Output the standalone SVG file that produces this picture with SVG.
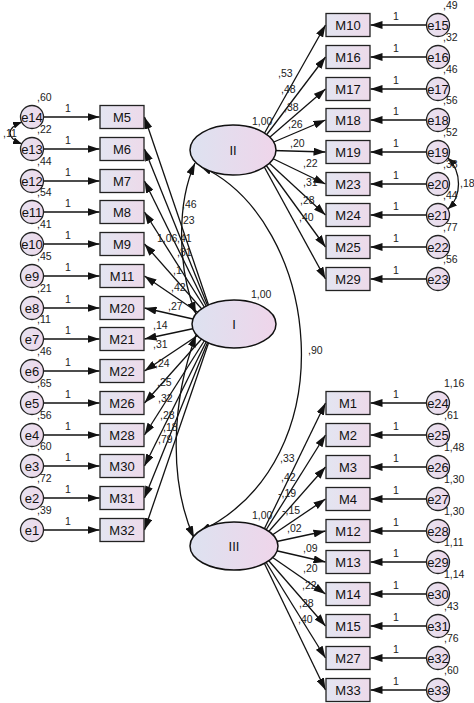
<svg xmlns="http://www.w3.org/2000/svg" width="474" height="703" viewBox="0 0 474 703">
<style>
.bg{fill:#ffffff}
.box{fill:url(#gBox);stroke:#222;stroke-width:1.3}
.err{fill:url(#gErr);stroke:#222;stroke-width:1.3}
.lat{fill:url(#gLat);stroke:#111;stroke-width:1.5}
.lbl{font-family:"Liberation Sans",Arial,sans-serif;font-size:13px;fill:#111;text-anchor:middle}
.el{font-family:"Liberation Sans",Arial,sans-serif;font-size:13px;fill:#111;text-anchor:middle}
.num{font-family:"Liberation Sans",Arial,sans-serif;font-size:10.5px;fill:#222}
.ar{stroke:#111;stroke-width:1.3;fill:none;marker-end:url(#ah)}
.cv{stroke:#111;stroke-width:1.3;fill:none;marker-start:url(#ah);marker-end:url(#ah)}
.cvs{stroke:#111;stroke-width:1.3;fill:none;marker-start:url(#ahs);marker-end:url(#ahs)}
</style>
<defs>
<linearGradient id="gBox" x1="0" y1="0" x2="1" y2="0"><stop offset="0" stop-color="#e3e5f1"/><stop offset="1" stop-color="#eddaea"/></linearGradient>
<linearGradient id="gLat" x1="0" y1="0" x2="1" y2="0"><stop offset="0" stop-color="#dde2f0"/><stop offset="1" stop-color="#efd5ea"/></linearGradient>
<linearGradient id="gErr" x1="0" y1="0" x2="1" y2="0"><stop offset="0" stop-color="#e6e2f0"/><stop offset="1" stop-color="#eed8ea"/></linearGradient>
<marker id="ah" markerUnits="userSpaceOnUse" markerWidth="12" markerHeight="8" refX="12" refY="4" orient="auto-start-reverse"><path d="M0,0 L12,4 L0,8 z" fill="#111"/></marker>
<marker id="ahs" markerUnits="userSpaceOnUse" markerWidth="9" markerHeight="7" refX="9" refY="3.5" orient="auto-start-reverse"><path d="M0,0 L9,3.5 L0,7 z" fill="#111"/></marker>
</defs>
<rect class="bg" x="0" y="0" width="474" height="703"/>
<g id="connectors">
<line class="ar" x1="215" y1="324" x2="144.5" y2="117"/>
<line class="ar" x1="215" y1="324" x2="144.5" y2="149"/>
<line class="ar" x1="215" y1="324" x2="144.5" y2="181"/>
<line class="ar" x1="215" y1="324" x2="144.5" y2="212"/>
<line class="ar" x1="215" y1="324" x2="144.5" y2="244"/>
<line class="ar" x1="215" y1="324" x2="144.5" y2="276"/>
<line class="ar" x1="215" y1="324" x2="144.5" y2="308"/>
<line class="ar" x1="215" y1="324" x2="144.5" y2="339"/>
<line class="ar" x1="215" y1="324" x2="144.5" y2="371"/>
<line class="ar" x1="215" y1="324" x2="144.5" y2="403"/>
<line class="ar" x1="215" y1="324" x2="144.5" y2="435"/>
<line class="ar" x1="215" y1="324" x2="144.5" y2="466"/>
<line class="ar" x1="215" y1="324" x2="144.5" y2="498"/>
<line class="ar" x1="215" y1="324" x2="144.5" y2="530"/>
<line class="ar" x1="255" y1="150" x2="325.5" y2="25"/>
<line class="ar" x1="255" y1="150" x2="325.5" y2="57"/>
<line class="ar" x1="255" y1="150" x2="325.5" y2="89"/>
<line class="ar" x1="255" y1="150" x2="325.5" y2="120"/>
<line class="ar" x1="255" y1="150" x2="325.5" y2="152"/>
<line class="ar" x1="255" y1="150" x2="325.5" y2="184"/>
<line class="ar" x1="255" y1="150" x2="325.5" y2="215"/>
<line class="ar" x1="255" y1="150" x2="325.5" y2="247"/>
<line class="ar" x1="255" y1="150" x2="325.5" y2="279"/>
<line class="ar" x1="256" y1="546" x2="325.5" y2="403"/>
<line class="ar" x1="256" y1="546" x2="325.5" y2="435"/>
<line class="ar" x1="256" y1="546" x2="325.5" y2="467"/>
<line class="ar" x1="256" y1="546" x2="325.5" y2="499"/>
<line class="ar" x1="256" y1="546" x2="325.5" y2="531"/>
<line class="ar" x1="256" y1="546" x2="325.5" y2="562"/>
<line class="ar" x1="256" y1="546" x2="325.5" y2="594"/>
<line class="ar" x1="256" y1="546" x2="325.5" y2="626"/>
<line class="ar" x1="256" y1="546" x2="325.5" y2="658"/>
<line class="ar" x1="256" y1="546" x2="325.5" y2="690"/>
<line class="ar" x1="43.5" y1="117" x2="99.5" y2="117"/>
<line class="ar" x1="43.5" y1="149" x2="99.5" y2="149"/>
<line class="ar" x1="43.5" y1="181" x2="99.5" y2="181"/>
<line class="ar" x1="43.5" y1="212" x2="99.5" y2="212"/>
<line class="ar" x1="43.5" y1="244" x2="99.5" y2="244"/>
<line class="ar" x1="43.5" y1="276" x2="99.5" y2="276"/>
<line class="ar" x1="43.5" y1="308" x2="99.5" y2="308"/>
<line class="ar" x1="43.5" y1="339" x2="99.5" y2="339"/>
<line class="ar" x1="43.5" y1="371" x2="99.5" y2="371"/>
<line class="ar" x1="43.5" y1="403" x2="99.5" y2="403"/>
<line class="ar" x1="43.5" y1="435" x2="99.5" y2="435"/>
<line class="ar" x1="43.5" y1="466" x2="99.5" y2="466"/>
<line class="ar" x1="43.5" y1="498" x2="99.5" y2="498"/>
<line class="ar" x1="43.5" y1="530" x2="99.5" y2="530"/>
<line class="ar" x1="426.5" y1="25" x2="370.5" y2="25"/>
<line class="ar" x1="426.5" y1="57" x2="370.5" y2="57"/>
<line class="ar" x1="426.5" y1="89" x2="370.5" y2="89"/>
<line class="ar" x1="426.5" y1="120" x2="370.5" y2="120"/>
<line class="ar" x1="426.5" y1="152" x2="370.5" y2="152"/>
<line class="ar" x1="426.5" y1="184" x2="370.5" y2="184"/>
<line class="ar" x1="426.5" y1="215" x2="370.5" y2="215"/>
<line class="ar" x1="426.5" y1="247" x2="370.5" y2="247"/>
<line class="ar" x1="426.5" y1="279" x2="370.5" y2="279"/>
<line class="ar" x1="426.5" y1="403" x2="370.5" y2="403"/>
<line class="ar" x1="426.5" y1="435" x2="370.5" y2="435"/>
<line class="ar" x1="426.5" y1="467" x2="370.5" y2="467"/>
<line class="ar" x1="426.5" y1="499" x2="370.5" y2="499"/>
<line class="ar" x1="426.5" y1="531" x2="370.5" y2="531"/>
<line class="ar" x1="426.5" y1="562" x2="370.5" y2="562"/>
<line class="ar" x1="426.5" y1="594" x2="370.5" y2="594"/>
<line class="ar" x1="426.5" y1="626" x2="370.5" y2="626"/>
<line class="ar" x1="426.5" y1="658" x2="370.5" y2="658"/>
<line class="ar" x1="426.5" y1="690" x2="370.5" y2="690"/>
<path class="cv" d="M196,314 C178,270 176,205 195,163"/>
<path class="cv" d="M196,335 C172,400 168,480 194,538"/>
<path class="cv" d="M200,166 C320,220 350,460 199,532"/>
<path class="cvs" d="M22,122 C6,128 6,138 22,144"/>
<path class="cvs" d="M448,158 C462,172 462,196 448,209"/>
</g>
<g id="labels" class="num">
<text x="182" y="208">,46</text>
<text x="180" y="224">,23</text>
<text x="157" y="242">1,06</text>
<text x="177" y="242">,41</text>
<text x="177" y="256">,81</text>
<text x="173" y="274">,1</text>
<text x="171" y="291">,42</text>
<text x="168" y="310">,27</text>
<text x="153" y="329">,14</text>
<text x="153" y="348">,31</text>
<text x="155" y="367">,24</text>
<text x="157" y="386">,25</text>
<text x="158" y="402">,32</text>
<text x="160" y="419">,28</text>
<text x="163" y="431">,18</text>
<text x="158" y="443">,79</text>
<text x="278" y="77">,53</text>
<text x="281" y="93">,48</text>
<text x="284" y="111">,38</text>
<text x="288" y="128">,26</text>
<text x="290" y="147">,20</text>
<text x="303" y="167">,22</text>
<text x="303" y="186">,31</text>
<text x="300" y="204">,28</text>
<text x="299" y="221">,40</text>
<text x="280" y="462">,33</text>
<text x="281" y="481">,42</text>
<text x="278" y="497">-,19</text>
<text x="282" y="514">-,15</text>
<text x="287" y="532">,02</text>
<text x="303" y="552">,09</text>
<text x="303" y="572">,20</text>
<text x="302" y="589">,22</text>
<text x="299" y="607">,28</text>
<text x="298" y="623">,40</text>
<text x="252" y="125">1,00</text>
<text x="251" y="298">1,00</text>
<text x="252" y="519">1,00</text>
<text x="308" y="354">,90</text>
<text x="3" y="137">,11</text>
<text x="460" y="187">,18</text>
</g>
<g id="latents">
<g id="II"><ellipse class="lat" cx="233" cy="150" rx="43" ry="25"/><text class="el" x="233" y="155">II</text></g>
<g id="I"><ellipse class="lat" cx="234" cy="324" rx="42" ry="24"/><text class="el" x="234" y="329">I</text></g>
<g id="III"><ellipse class="lat" cx="234" cy="546" rx="44" ry="24"/><text class="el" x="234" y="551">III</text></g>
</g>
<g id="observed">
<g id="M5"><rect class="box" x="100" y="105.5" width="44" height="23"/><text class="lbl" x="122" y="121.5">M5</text></g>
<g id="M6"><rect class="box" x="100" y="137.5" width="44" height="23"/><text class="lbl" x="122" y="153.5">M6</text></g>
<g id="M7"><rect class="box" x="100" y="169.5" width="44" height="23"/><text class="lbl" x="122" y="185.5">M7</text></g>
<g id="M8"><rect class="box" x="100" y="200.5" width="44" height="23"/><text class="lbl" x="122" y="216.5">M8</text></g>
<g id="M9"><rect class="box" x="100" y="232.5" width="44" height="23"/><text class="lbl" x="122" y="248.5">M9</text></g>
<g id="M11"><rect class="box" x="100" y="264.5" width="44" height="23"/><text class="lbl" x="122" y="280.5">M11</text></g>
<g id="M20"><rect class="box" x="100" y="296.5" width="44" height="23"/><text class="lbl" x="122" y="312.5">M20</text></g>
<g id="M21"><rect class="box" x="100" y="327.5" width="44" height="23"/><text class="lbl" x="122" y="343.5">M21</text></g>
<g id="M22"><rect class="box" x="100" y="359.5" width="44" height="23"/><text class="lbl" x="122" y="375.5">M22</text></g>
<g id="M26"><rect class="box" x="100" y="391.5" width="44" height="23"/><text class="lbl" x="122" y="407.5">M26</text></g>
<g id="M28"><rect class="box" x="100" y="423.5" width="44" height="23"/><text class="lbl" x="122" y="439.5">M28</text></g>
<g id="M30"><rect class="box" x="100" y="454.5" width="44" height="23"/><text class="lbl" x="122" y="470.5">M30</text></g>
<g id="M31"><rect class="box" x="100" y="486.5" width="44" height="23"/><text class="lbl" x="122" y="502.5">M31</text></g>
<g id="M32"><rect class="box" x="100" y="518.5" width="44" height="23"/><text class="lbl" x="122" y="534.5">M32</text></g>
<g id="M10"><rect class="box" x="326" y="13.5" width="44" height="23"/><text class="lbl" x="348" y="29.5">M10</text></g>
<g id="M16"><rect class="box" x="326" y="45.5" width="44" height="23"/><text class="lbl" x="348" y="61.5">M16</text></g>
<g id="M17"><rect class="box" x="326" y="77.5" width="44" height="23"/><text class="lbl" x="348" y="93.5">M17</text></g>
<g id="M18"><rect class="box" x="326" y="108.5" width="44" height="23"/><text class="lbl" x="348" y="124.5">M18</text></g>
<g id="M19"><rect class="box" x="326" y="140.5" width="44" height="23"/><text class="lbl" x="348" y="156.5">M19</text></g>
<g id="M23"><rect class="box" x="326" y="172.5" width="44" height="23"/><text class="lbl" x="348" y="188.5">M23</text></g>
<g id="M24"><rect class="box" x="326" y="203.5" width="44" height="23"/><text class="lbl" x="348" y="219.5">M24</text></g>
<g id="M25"><rect class="box" x="326" y="235.5" width="44" height="23"/><text class="lbl" x="348" y="251.5">M25</text></g>
<g id="M29"><rect class="box" x="326" y="267.5" width="44" height="23"/><text class="lbl" x="348" y="283.5">M29</text></g>
<g id="M1"><rect class="box" x="326" y="391.5" width="44" height="23"/><text class="lbl" x="348" y="407.5">M1</text></g>
<g id="M2"><rect class="box" x="326" y="423.5" width="44" height="23"/><text class="lbl" x="348" y="439.5">M2</text></g>
<g id="M3"><rect class="box" x="326" y="455.5" width="44" height="23"/><text class="lbl" x="348" y="471.5">M3</text></g>
<g id="M4"><rect class="box" x="326" y="487.5" width="44" height="23"/><text class="lbl" x="348" y="503.5">M4</text></g>
<g id="M12"><rect class="box" x="326" y="519.5" width="44" height="23"/><text class="lbl" x="348" y="535.5">M12</text></g>
<g id="M13"><rect class="box" x="326" y="550.5" width="44" height="23"/><text class="lbl" x="348" y="566.5">M13</text></g>
<g id="M14"><rect class="box" x="326" y="582.5" width="44" height="23"/><text class="lbl" x="348" y="598.5">M14</text></g>
<g id="M15"><rect class="box" x="326" y="614.5" width="44" height="23"/><text class="lbl" x="348" y="630.5">M15</text></g>
<g id="M27"><rect class="box" x="326" y="646.5" width="44" height="23"/><text class="lbl" x="348" y="662.5">M27</text></g>
<g id="M33"><rect class="box" x="326" y="678.5" width="44" height="23"/><text class="lbl" x="348" y="694.5">M33</text></g>
</g>
<g id="errors">
<g id="e14"><circle class="err" cx="32" cy="117" r="11.5"/><text class="el" x="32" y="121.5">e14</text><text class="num" x="37" y="101">,60</text><text class="num" x="65" y="112">1</text></g>
<g id="e13"><circle class="err" cx="32" cy="149" r="11.5"/><text class="el" x="32" y="153.5">e13</text><text class="num" x="37" y="133">,22</text><text class="num" x="65" y="144">1</text></g>
<g id="e12"><circle class="err" cx="32" cy="181" r="11.5"/><text class="el" x="32" y="185.5">e12</text><text class="num" x="37" y="165">,44</text><text class="num" x="65" y="176">1</text></g>
<g id="e11"><circle class="err" cx="32" cy="212" r="11.5"/><text class="el" x="32" y="216.5">e11</text><text class="num" x="37" y="196">,54</text><text class="num" x="65" y="207">1</text></g>
<g id="e10"><circle class="err" cx="32" cy="244" r="11.5"/><text class="el" x="32" y="248.5">e10</text><text class="num" x="37" y="228">,41</text><text class="num" x="65" y="239">1</text></g>
<g id="e9"><circle class="err" cx="32" cy="276" r="11.5"/><text class="el" x="32" y="280.5">e9</text><text class="num" x="37" y="260">,45</text><text class="num" x="65" y="271">1</text></g>
<g id="e8"><circle class="err" cx="32" cy="308" r="11.5"/><text class="el" x="32" y="312.5">e8</text><text class="num" x="37" y="292">,21</text><text class="num" x="65" y="303">1</text></g>
<g id="e7"><circle class="err" cx="32" cy="339" r="11.5"/><text class="el" x="32" y="343.5">e7</text><text class="num" x="37" y="323">,11</text><text class="num" x="65" y="334">1</text></g>
<g id="e6"><circle class="err" cx="32" cy="371" r="11.5"/><text class="el" x="32" y="375.5">e6</text><text class="num" x="37" y="355">,46</text><text class="num" x="65" y="366">1</text></g>
<g id="e5"><circle class="err" cx="32" cy="403" r="11.5"/><text class="el" x="32" y="407.5">e5</text><text class="num" x="37" y="387">,65</text><text class="num" x="65" y="398">1</text></g>
<g id="e4"><circle class="err" cx="32" cy="435" r="11.5"/><text class="el" x="32" y="439.5">e4</text><text class="num" x="37" y="419">,56</text><text class="num" x="65" y="430">1</text></g>
<g id="e3"><circle class="err" cx="32" cy="466" r="11.5"/><text class="el" x="32" y="470.5">e3</text><text class="num" x="37" y="450">,60</text><text class="num" x="65" y="461">1</text></g>
<g id="e2"><circle class="err" cx="32" cy="498" r="11.5"/><text class="el" x="32" y="502.5">e2</text><text class="num" x="37" y="482">,72</text><text class="num" x="65" y="493">1</text></g>
<g id="e1"><circle class="err" cx="32" cy="530" r="11.5"/><text class="el" x="32" y="534.5">e1</text><text class="num" x="37" y="514">,39</text><text class="num" x="65" y="525">1</text></g>
<g id="e15"><circle class="err" cx="438" cy="25" r="11.5"/><text class="el" x="438" y="29.5">e15</text><text class="num" x="443" y="9">,49</text><text class="num" x="393" y="20">1</text></g>
<g id="e16"><circle class="err" cx="438" cy="57" r="11.5"/><text class="el" x="438" y="61.5">e16</text><text class="num" x="443" y="41">,32</text><text class="num" x="393" y="52">1</text></g>
<g id="e17"><circle class="err" cx="438" cy="89" r="11.5"/><text class="el" x="438" y="93.5">e17</text><text class="num" x="443" y="73">,46</text><text class="num" x="393" y="84">1</text></g>
<g id="e18"><circle class="err" cx="438" cy="120" r="11.5"/><text class="el" x="438" y="124.5">e18</text><text class="num" x="443" y="104">,56</text><text class="num" x="393" y="115">1</text></g>
<g id="e19"><circle class="err" cx="438" cy="152" r="11.5"/><text class="el" x="438" y="156.5">e19</text><text class="num" x="443" y="136">,52</text><text class="num" x="393" y="147">1</text></g>
<g id="e20"><circle class="err" cx="438" cy="184" r="11.5"/><text class="el" x="438" y="188.5">e20</text><text class="num" x="443" y="168">,38</text><text class="num" x="393" y="179">1</text></g>
<g id="e21"><circle class="err" cx="438" cy="215" r="11.5"/><text class="el" x="438" y="219.5">e21</text><text class="num" x="443" y="199">,44</text><text class="num" x="393" y="210">1</text></g>
<g id="e22"><circle class="err" cx="438" cy="247" r="11.5"/><text class="el" x="438" y="251.5">e22</text><text class="num" x="443" y="231">,77</text><text class="num" x="393" y="242">1</text></g>
<g id="e23"><circle class="err" cx="438" cy="279" r="11.5"/><text class="el" x="438" y="283.5">e23</text><text class="num" x="443" y="263">,56</text><text class="num" x="393" y="274">1</text></g>
<g id="e24"><circle class="err" cx="438" cy="403" r="11.5"/><text class="el" x="438" y="407.5">e24</text><text class="num" x="444" y="387">1,16</text><text class="num" x="393" y="398">1</text></g>
<g id="e25"><circle class="err" cx="438" cy="435" r="11.5"/><text class="el" x="438" y="439.5">e25</text><text class="num" x="444" y="419">,61</text><text class="num" x="393" y="430">1</text></g>
<g id="e26"><circle class="err" cx="438" cy="467" r="11.5"/><text class="el" x="438" y="471.5">e26</text><text class="num" x="444" y="451">1,48</text><text class="num" x="393" y="462">1</text></g>
<g id="e27"><circle class="err" cx="438" cy="499" r="11.5"/><text class="el" x="438" y="503.5">e27</text><text class="num" x="444" y="483">1,30</text><text class="num" x="393" y="494">1</text></g>
<g id="e28"><circle class="err" cx="438" cy="531" r="11.5"/><text class="el" x="438" y="535.5">e28</text><text class="num" x="444" y="515">1,30</text><text class="num" x="393" y="526">1</text></g>
<g id="e29"><circle class="err" cx="438" cy="562" r="11.5"/><text class="el" x="438" y="566.5">e29</text><text class="num" x="444" y="546">1,11</text><text class="num" x="393" y="557">1</text></g>
<g id="e30"><circle class="err" cx="438" cy="594" r="11.5"/><text class="el" x="438" y="598.5">e30</text><text class="num" x="444" y="578">1,14</text><text class="num" x="393" y="589">1</text></g>
<g id="e31"><circle class="err" cx="438" cy="626" r="11.5"/><text class="el" x="438" y="630.5">e31</text><text class="num" x="444" y="610">,43</text><text class="num" x="393" y="621">1</text></g>
<g id="e32"><circle class="err" cx="438" cy="658" r="11.5"/><text class="el" x="438" y="662.5">e32</text><text class="num" x="444" y="642">,76</text><text class="num" x="393" y="653">1</text></g>
<g id="e33"><circle class="err" cx="438" cy="690" r="11.5"/><text class="el" x="438" y="694.5">e33</text><text class="num" x="444" y="674">,60</text><text class="num" x="393" y="685">1</text></g>
</g>
</svg>
